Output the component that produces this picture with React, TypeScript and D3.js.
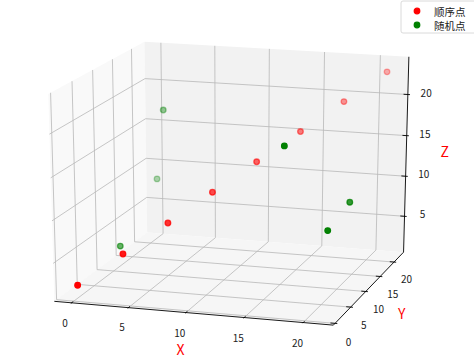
import React from 'react';
import * as d3 from 'd3';

// ---- data ----
const redX = [0, 3, 6, 9, 12, 15, 18, 21];
const redY = [1, 4, 7, 10, 13, 16, 19, 22];
const redZ = [2, 5, 8, 11, 14, 17, 20, 23];
const greenX = [1, 0, 1, 17, 21, 21];
const greenY = [21, 22, 9, 4, 10, 3];
const greenZ = [17, 8, 4, 19, 11, 10];
const seriesNames = ['顺序点', '随机点'];
const seriesColors = ['#ff0000', '#008000'];
const axisNames = ['X', 'Y', 'Z'];

// ---- layout ----
const W = 474;
const H = 364;
const ELEV = 18;
const AZIM = -73;
const DIST = 10;
const CX = 234.6;
const CY = 177;
const KX = 2725;
const KY = 2030;
const HALF = 0.5 + 1 / 48;
const FONT = "'Noto Sans CJK SC', 'DejaVu Sans', sans-serif";

function lim(vals: number[]): [number, number] {
  const [a, b] = d3.extent(vals) as [number, number];
  const m = (b - a) * 0.05;
  return [a - m, b + m];
}

const allX = [...redX, ...greenX];
const allY = [...redY, ...greenY];
const allZ = [...redZ, ...greenZ];
const sx = d3.scaleLinear().domain(lim(allX)).range([-0.5, 0.5]);
const sy = d3.scaleLinear().domain(lim(allY)).range([-0.5, 0.5]);
const sz = d3.scaleLinear().domain(lim(allZ)).range([-0.5, 0.5]);
const xTicks = sx.ticks(5);
const yTicks = sy.ticks(5);
const zTicks = sz.ticks(5);

const e = (ELEV * Math.PI) / 180;
const a = (AZIM * Math.PI) / 180;
const nV = [Math.cos(a) * Math.cos(e), Math.sin(a) * Math.cos(e), Math.sin(e)];
const uV = [-Math.sin(a), Math.cos(a), 0];
const vV = [-Math.cos(a) * Math.sin(e), -Math.sin(a) * Math.sin(e), Math.cos(e)];
const dot = (p: number[], q: number[]) => p[0] * q[0] + p[1] * q[1] + p[2] * q[2];

// normalized coords -> [screenX, screenY, depth]
function proj(p: number[]): [number, number, number] {
  const zv = dot(nV, p) - DIST;
  const w = -zv;
  const X = dot(uV, p) / w;
  const Y = dot(vV, p) / w;
  return [CX + KX * X, CY - KY * Y, 10 / zv];
}

const line = (pts: number[][]) =>
  pts.map((p, i) => { const q = proj(p); return `${i ? 'L' : 'M'}${q[0].toFixed(2)},${q[1].toFixed(2)}`; }).join('');

const h = HALF;
const panes = [
  { pts: [[-h, -h, -h], [-h, h, -h], [-h, h, h], [-h, -h, h]], fill: '#f9f9f9' },
  { pts: [[-h, h, -h], [h, h, -h], [h, h, h], [-h, h, h]], fill: '#f2f2f2' },
  { pts: [[-h, -h, -h], [h, -h, -h], [h, h, -h], [-h, h, -h]], fill: '#f6f6f6' },
];

function seriesPoints(xs: number[], ys: number[], zs: number[]) {
  const pts = xs.map((x, i) => proj([sx(x), sy(ys[i]), sz(zs[i])]));
  const dz = pts.map((p) => p[2]);
  const [mn, mx] = d3.extent(dz) as [number, number];
  return pts.map((p) => ({ x: p[0], y: p[1], alpha: 1 - 0.7 * ((p[2] - mn) / (mx - mn || 1)) }));
}

export default function App() {
  const red = seriesPoints(redX, redY, redZ);
  const green = seriesPoints(greenX, greenY, greenZ);
  const td = 1 / 12;
  const grid: string[] = [];
  xTicks.forEach((t) => grid.push(line([[sx(t), -h, -h], [sx(t), h, -h], [sx(t), h, h]])));
  yTicks.forEach((t) => grid.push(line([[h, sy(t), -h], [-h, sy(t), -h], [-h, sy(t), h]])));
  zTicks.forEach((t) => grid.push(line([[-h, -h, sz(t)], [-h, h, sz(t)], [h, h, sz(t)]])));

  const tickMarks: string[] = [];
  xTicks.forEach((t) => tickMarks.push(line([[sx(t), -h - 0.1 * td, -h], [sx(t), -h + 0.2 * td, -h]])));
  yTicks.forEach((t) => tickMarks.push(line([[h + 0.1 * td, sy(t), -h], [h - 0.2 * td, sy(t), -h]])));
  zTicks.forEach((t) => tickMarks.push(line([[h + 0.1 * td, h, sz(t)], [h - 0.2 * td, h, sz(t)]])));

  const labels: { x: number; y: number; s: string }[] = [];
  xTicks.forEach((t) => { const q = proj([sx(t), -h - 0.072, -h - 0.072]); labels.push({ x: q[0], y: q[1], s: String(t) }); });
  yTicks.forEach((t) => { const q = proj([h + 0.05, sy(t), -h - 0.085]); labels.push({ x: q[0], y: q[1], s: String(t) }); });
  zTicks.forEach((t) => { const q = proj([h + 0.057, h + 0.057, sz(t)]); labels.push({ x: q[0], y: q[1], s: String(t) }); });

  const k = 0.122;
  const axisLabelPos = [
    proj([0, -h - 0.132, -h - 0.132]),
    proj([h + k, 0, -h - k]),
    proj([h + k, h + k, 0]),
  ];

  const axes = [
    line([[-h, -h, -h], [h, -h, -h]]),
    line([[h, -h, -h], [h, h, -h]]),
    line([[h, h, -h], [h, h, h]]),
  ];

  const dot3 = (p: { x: number; y: number; alpha: number }, c: string, i: number) => (
    <circle key={i} cx={p.x} cy={p.y} r={2.8} fill={c} fillOpacity={p.alpha}
      stroke={c} strokeOpacity={p.alpha} strokeWidth={1.3} />
  );

  return (
    <svg width={W} height={H} style={{ position: 'absolute', left: 0, top: 0, background: '#fff' }}
      fontFamily={FONT}>
      <rect width={W} height={H} fill="#fff" />
      {panes.map((p, i) => (
        <path key={i} d={line(p.pts) + 'Z'} fill={p.fill} stroke="none" />
      ))}
      {grid.map((d, i) => <path key={i} d={d} fill="none" stroke="#b8b8b8" strokeWidth={0.8} />)}
      {axes.map((d, i) => <path key={i} d={d} stroke="#000" strokeWidth={0.9} />)}
      {tickMarks.map((d, i) => <path key={i} d={d} stroke="#000" strokeWidth={0.9} />)}
      {labels.map((l, i) => (
        <text key={i} x={l.x} y={l.y} fontSize={10} textAnchor="middle" dominantBaseline="central" fill="#222">{l.s}</text>
      ))}
      {axisLabelPos.map((q, i) => (
        <text key={i} x={q[0]} y={q[1]} fontSize={14} textAnchor="middle" dominantBaseline="central" fill="#ff0000">{axisNames[i]}</text>
      ))}
      {red.map((p, i) => dot3(p, seriesColors[0], i))}
      {green.map((p, i) => dot3(p, seriesColors[1], i))}
      <g>
        <rect x={401} y={1} width={80} height={32} rx={2} fill="#fff" fillOpacity={0.8} stroke="#d0d0d0" strokeWidth={0.8} />
        {seriesNames.map((n, i) => (
          <g key={i}>
            <circle cx={417} cy={11 + i * 14} r={2.8} fill={seriesColors[i]} stroke={seriesColors[i]} strokeWidth={1.2} />
            <text x={434} y={11 + i * 14} fontSize={10.5} dominantBaseline="central" fill="#222">{n}</text>
          </g>
        ))}
      </g>
    </svg>
  );
}
